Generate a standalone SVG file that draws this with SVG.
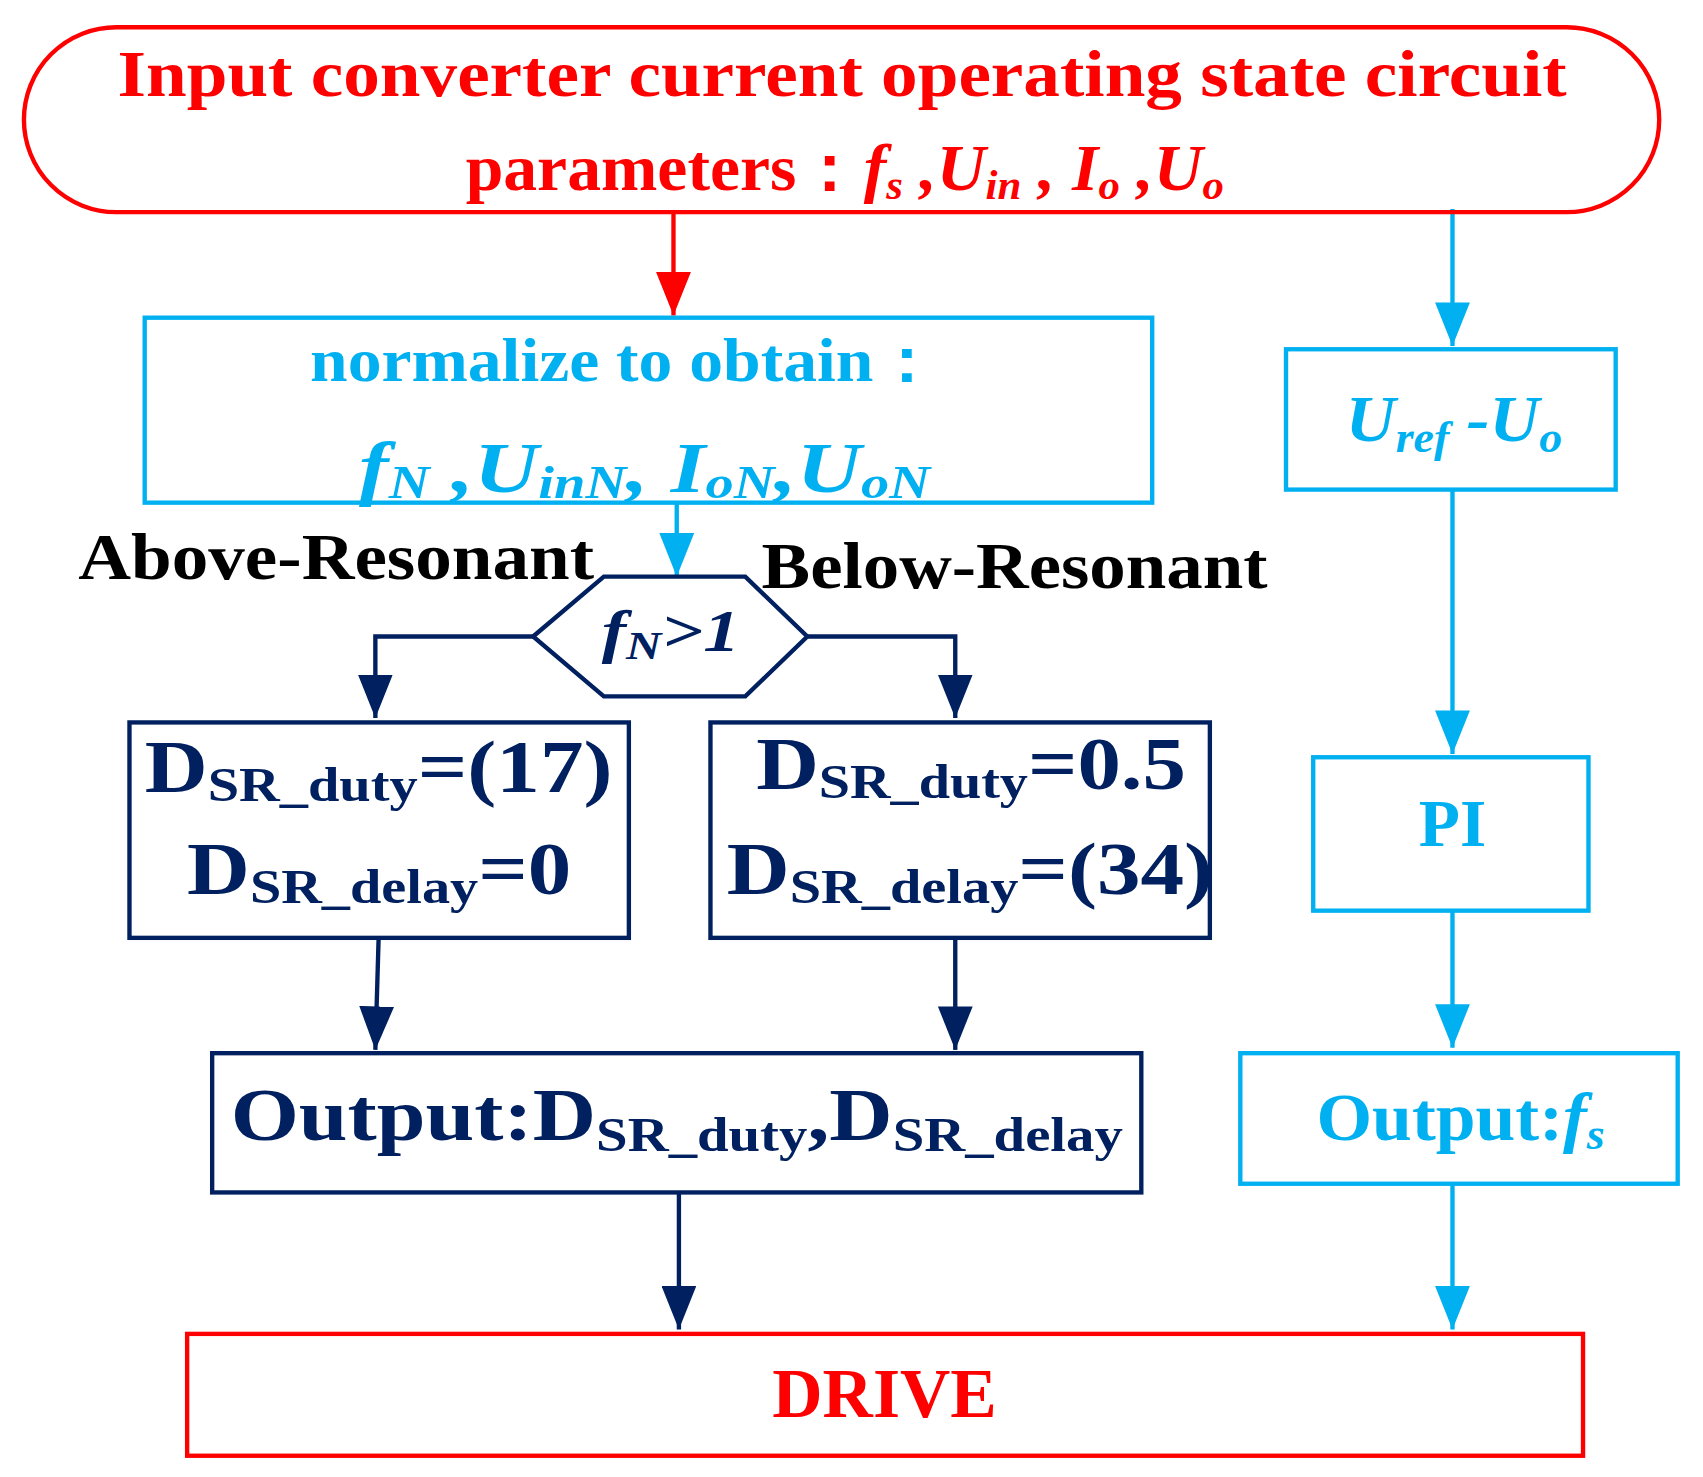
<svg xmlns="http://www.w3.org/2000/svg" width="1703" height="1477" viewBox="0 0 1703 1477">
<style>
text{font-family:"Liberation Serif","Times New Roman",serif;font-weight:bold}
.r{fill:#ff0000}.c{fill:#00b0f0}.n{fill:#002060}.k{fill:#000}
.br{fill:none;stroke:#ff0000;stroke-width:4}
.bc{fill:none;stroke:#00b0f0;stroke-width:4}
.bn{fill:none;stroke:#002060;stroke-width:4}
.i{font-style:italic}
</style>
<defs>
<marker id="mr" markerUnits="userSpaceOnUse" viewBox="0 0 40 32" markerWidth="40" markerHeight="32" refX="40" refY="16" orient="auto"><path d="M0,0 L40,16 L0,32 Z" fill="#ff0000"/></marker>
<marker id="mc" markerUnits="userSpaceOnUse" viewBox="0 0 40 32" markerWidth="40" markerHeight="32" refX="40" refY="16" orient="auto"><path d="M0,0 L40,16 L0,32 Z" fill="#00b0f0"/></marker>
<marker id="mn" markerUnits="userSpaceOnUse" viewBox="0 0 40 32" markerWidth="40" markerHeight="32" refX="40" refY="16" orient="auto"><path d="M0,0 L40,16 L0,32 Z" fill="#002060"/></marker>
</defs>
<rect width="1703" height="1477" fill="#fff"/>
<g transform="scale(1.088)">
<g id="connectors" stroke-width="4" fill="none">
<path d="M619,195 V290" stroke="#ff0000" marker-end="url(#mr)"/>
<path d="M622,462 V530" stroke="#00b0f0" marker-end="url(#mc)"/>
<path d="M490,585 H345 V660" stroke="#002060" marker-end="url(#mn)"/>
<path d="M742,585 H878 V660" stroke="#002060" marker-end="url(#mn)"/>
<path d="M348,862 L345,965" stroke="#002060" marker-end="url(#mn)"/>
<path d="M878,862 V965" stroke="#002060" marker-end="url(#mn)"/>
<path d="M624,1096 V1222" stroke="#002060" marker-end="url(#mn)"/>
<path d="M1335,192 V318" stroke="#00b0f0" marker-end="url(#mc)"/>
<path d="M1335,450 V693" stroke="#00b0f0" marker-end="url(#mc)"/>
<path d="M1335,837 V963" stroke="#00b0f0" marker-end="url(#mc)"/>
<path d="M1335,1088 V1222" stroke="#00b0f0" marker-end="url(#mc)"/>
</g>
<g id="input">
<rect x="22" y="25" width="1503" height="170" rx="85" class="br"/>
<text x="108" y="88" font-size="60" textLength="1332" lengthAdjust="spacingAndGlyphs" class="r">Input converter current operating state circuit</text>
<text x="428" y="175" font-size="60" textLength="697" lengthAdjust="spacingAndGlyphs" class="r">parameters：<tspan class="i">f<tspan font-size="38" dy="8">s</tspan><tspan dy="-8"> ,U</tspan><tspan font-size="38" dy="8">in</tspan><tspan dy="-8"> , I</tspan><tspan font-size="38" dy="8">o</tspan><tspan dy="-8"> ,U</tspan><tspan font-size="38" dy="8">o</tspan></tspan></text>
</g>
<g id="normalize">
<rect x="133" y="292" width="926" height="170" class="bc"/>
<text x="285" y="350" font-size="56" textLength="580" lengthAdjust="spacingAndGlyphs" class="c">normalize to obtain：</text>
<text x="330" y="452" font-size="66" textLength="525" lengthAdjust="spacingAndGlyphs" class="c i">f<tspan font-size="42" dy="6">N</tspan><tspan dy="-6"> ,U</tspan><tspan font-size="42" dy="6">inN</tspan><tspan dy="-6">, I</tspan><tspan font-size="42" dy="6">oN</tspan><tspan dy="-6">,U</tspan><tspan font-size="42" dy="6">oN</tspan></text>
</g>
<g id="labels">
<text x="72" y="532" font-size="60" textLength="474" lengthAdjust="spacingAndGlyphs" class="k">Above-Resonant</text>
<text x="700" y="540" font-size="60" textLength="465" lengthAdjust="spacingAndGlyphs" class="k">Below-Resonant</text>
</g>
<g id="decision">
<polygon points="490,585 555,530 685,530 742,585 685,640 555,640" class="bn"/>
<text x="553" y="598" font-size="54" textLength="127" lengthAdjust="spacingAndGlyphs" class="n i">f<tspan font-size="36" dy="8">N</tspan><tspan dy="-8">&gt;1</tspan></text>
</g>
<g id="above">
<rect x="119" y="664" width="459" height="198" class="bn"/>
<text x="133" y="728" font-size="68" textLength="430" lengthAdjust="spacingAndGlyphs" class="n">D<tspan font-size="44" dy="8">SR_duty</tspan><tspan dy="-8">=(17)</tspan></text>
<text x="172" y="822" font-size="68" textLength="353" lengthAdjust="spacingAndGlyphs" class="n">D<tspan font-size="44" dy="8">SR_delay</tspan><tspan dy="-8">=0</tspan></text>
</g>
<g id="below">
<rect x="653" y="664" width="459" height="198" class="bn"/>
<text x="695" y="725" font-size="68" textLength="395" lengthAdjust="spacingAndGlyphs" class="n">D<tspan font-size="44" dy="8">SR_duty</tspan><tspan dy="-8">=0.5</tspan></text>
<text x="668" y="822" font-size="68" textLength="447" lengthAdjust="spacingAndGlyphs" class="n">D<tspan font-size="44" dy="8">SR_delay</tspan><tspan dy="-8">=(34)</tspan></text>
</g>
<g id="output">
<rect x="195" y="968" width="854" height="128" class="bn"/>
<text x="212" y="1048" font-size="68" textLength="820" lengthAdjust="spacingAndGlyphs" class="n">Output:D<tspan font-size="44" dy="10">SR_duty</tspan><tspan dy="-10">,D</tspan><tspan font-size="44" dy="10">SR_delay</tspan></text>
</g>
<g id="drive">
<rect x="172" y="1226" width="1283" height="112" class="br"/>
<text x="813" y="1302" font-size="64" text-anchor="middle" class="r">DRIVE</text>
</g>
<g id="uref">
<rect x="1182" y="321" width="303" height="129" class="bc"/>
<text x="1237" y="405" font-size="60" textLength="199" lengthAdjust="spacingAndGlyphs" class="c i">U<tspan font-size="40" dy="10">ref</tspan><tspan dy="-10"> -U</tspan><tspan font-size="40" dy="10">o</tspan></text>
</g>
<g id="pi">
<rect x="1207" y="696" width="253" height="141" class="bc"/>
<text x="1335" y="778" font-size="62" text-anchor="middle" class="c">PI</text>
</g>
<g id="outfs">
<rect x="1140" y="968" width="402" height="120" class="bc"/>
<text x="1210" y="1048" font-size="62" textLength="265" lengthAdjust="spacingAndGlyphs" class="c">Output:<tspan class="i">f<tspan font-size="40" dy="8">s</tspan></tspan></text>
</g>
</g>
</svg>
